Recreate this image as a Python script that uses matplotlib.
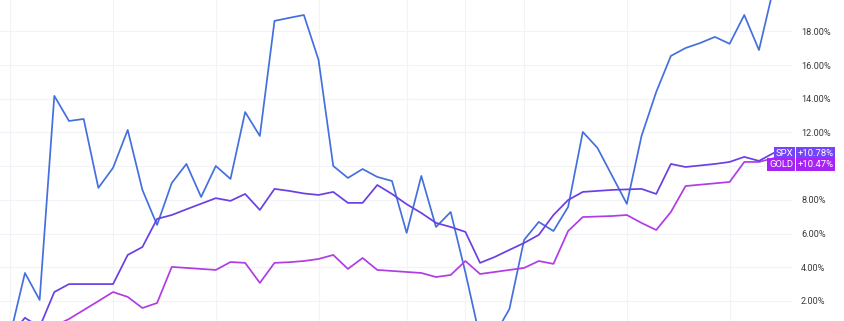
import numpy as np
import matplotlib.pyplot as plt
from matplotlib import transforms

plt.rcParams['font.family'] = ['Roboto', 'DejaVu Sans']

# percent change since start, one value per session
blue = [0.0, 3.66, 2.06, 14.17, 12.68, 12.8, 8.71, 9.9, 12.15, 8.59, 6.51, 9.0, 10.13,
        8.17, 10.01, 9.24, 13.21, 11.79, 18.62, 18.8, 18.97, 16.3, 10.01, 9.3, 9.83,
        9.36, 9.12, 6.04, 9.42, 6.39, 7.28, 3.7, -0.2, 0.0, 1.52, 5.62, 6.69, 6.15,
        7.58, 12.03, 11.08, 9.42, 7.76, 11.79, 14.4, 16.54, 17.01, 17.31, 17.67,
        17.26, 18.97, 16.89, 20.6]
spx = [0.0, 1.0, 0.45, 2.53, 3.0, 3.0, 3.0, 3.0, 4.73, 5.2, 6.87, 7.1, 7.44, 7.77,
       8.1, 7.94, 8.35, 7.4, 8.65, 8.53, 8.38, 8.29, 8.47, 7.82, 7.82, 8.88, 8.35,
       7.74, 7.22, 6.63, 6.39, 6.1, 4.26, 4.61, 5.03, 5.44, 5.92, 7.1, 7.99, 8.47,
       8.53, 8.59, 8.62, 8.65, 8.35, 10.13, 9.95, 10.04, 10.13, 10.25, 10.55, 10.31,
       10.78]
gold = [0.0, 0.4, 0.2, 0.5, 0.93, 1.46, 1.99, 2.53, 2.24, 1.58, 1.88, 4.02, 3.96,
        3.9, 3.84, 4.31, 4.26, 3.07, 4.26, 4.3, 4.37, 4.49, 4.73, 3.9, 4.55, 3.84,
        3.78, 3.72, 3.66, 3.42, 3.54, 4.37, 3.6, 3.72, 3.84, 3.96, 4.37, 4.2, 6.15,
        6.98, 7.01, 7.04, 7.1, 6.63, 6.21, 7.28, 8.82, 8.9, 8.98, 9.06, 10.25, 10.25,
        10.47]
x = np.arange(len(spx))

y_ticks = [2, 4, 6, 8, 12, 14, 16, 18]
grid_days = [0, 7, 14, 21, 27, 31, 35, 42, 49]

c_blue = '#4470de'
c_spx = '#6a3fe4'
c_gold = '#b03ce4'

fig = plt.figure(figsize=(8.45, 3.21), dpi=100)
ax = fig.add_axes([0, 0, 792 / 845, 1])

for g in grid_days:
    ax.axvline(g, color='#f1f3f7', lw=0.8, zorder=0)
for t in y_ticks + [10]:
    ax.axhline(t, color='#f1f3f7', lw=0.8, zorder=0)

ax.plot(x, blue, color=c_blue, lw=1.25, zorder=2)
ax.plot(x, gold, color=c_gold, lw=1.25, zorder=3)
ax.plot(x, spx, color=c_spx, lw=1.25, zorder=4)

ax.set_xlim(-0.70, 53.25)
ax.set_ylim(0.81, 19.86)

ax.yaxis.tick_right()
ax.set_yticks(y_ticks)
ax.set_yticklabels([f'{t:.2f}%' for t in y_ticks])
ax.tick_params(axis='y', length=0, pad=6.5, labelsize=6.6, labelcolor='#3a3a3a')
ax.set_xticks([])
for s in ax.spines.values():
    s.set_visible(False)

# top tick label, half cut by the frame
tr = transforms.blended_transform_factory(ax.transAxes, ax.transData)
ax.text(1.0 + 9 / 792, 20, '20.00%', transform=tr, fontsize=6.6, color='#3a3a3a',
        va='center', ha='left', clip_on=False)

# last value labels
trf = transforms.blended_transform_factory(fig.transFigure, ax.transData)
xs = 795 / 845
for name, vals, col, off in [('SPX', spx, '#7444fb', 0), ('GOLD', gold, '#a622f5', -8.0)]:
    yv = spx[-1]
    ax.annotate(name, (xs - 0.002, yv), xycoords=trf, xytext=(0, off),
                textcoords='offset points', ha='right', va='center', fontsize=6.8,
                color='white', bbox=dict(boxstyle='square,pad=0.2', lw=0, fc=col),
                annotation_clip=False, zorder=6)
    ax.annotate(f'+{vals[-1]:.2f}%', (xs + 0.003, yv), xycoords=trf, xytext=(0, off),
                textcoords='offset points', ha='left', va='center', fontsize=6.8,
                color='white', bbox=dict(boxstyle='square,pad=0.2', lw=0, fc=col),
                annotation_clip=False, zorder=6)

fig.savefig('out.png', dpi=100)
